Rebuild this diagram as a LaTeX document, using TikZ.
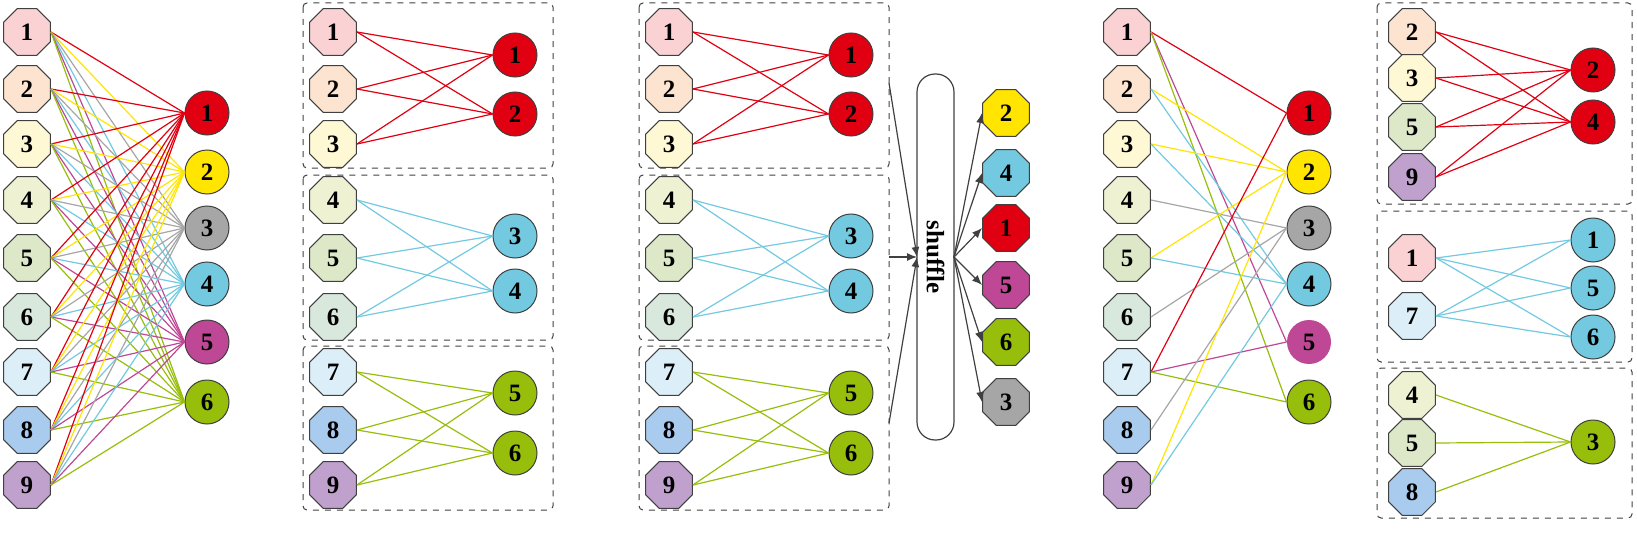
\documentclass[tikz,border=0pt]{standalone}
\usepackage{fontspec}
\setmainfont{Liberation Serif}
\usetikzlibrary{shapes.geometric,arrows.meta}
\definecolor{o1}{HTML}{FAD2D4}\definecolor{o2}{HTML}{FCE4D0}\definecolor{o3}{HTML}{FFF8D4}
\definecolor{o4}{HTML}{EEF2D2}\definecolor{o5}{HTML}{DCE8C8}\definecolor{o6}{HTML}{D8E8DC}
\definecolor{o7}{HTML}{DCEEF8}\definecolor{o8}{HTML}{A9CBEE}\definecolor{o9}{HTML}{C0A0CC}
\definecolor{c1}{HTML}{E00012}\definecolor{c2}{HTML}{FFE500}\definecolor{c3}{HTML}{A6A6A6}
\definecolor{c4}{HTML}{72C9E0}\definecolor{c5}{HTML}{BE4895}\definecolor{c6}{HTML}{96BE0A}
\definecolor{bd}{HTML}{404040}
\tikzset{
  lbl/.style={font=\fontsize{12.5}{14}\selectfont\bfseries},
  oct/.style={regular polygon,regular polygon sides=8,minimum size=25.4pt,inner sep=0pt,draw=bd,line width=0.5pt,fill=o#1,lbl},
  octc/.style={regular polygon,regular polygon sides=8,minimum size=25.4pt,inner sep=0pt,draw=bd,line width=0.5pt,fill=c#1,lbl},
  cir/.style={circle,minimum size=22pt,inner sep=0pt,draw=bd,line width=0.5pt,fill=c#1,lbl},
  e/.style={line width=0.6pt,color=c#1},
  grp/.style={draw=bd,dashed,rounded corners=2pt,line width=0.5pt},
  arr/.style={-{Latex[length=5pt,width=4pt]},draw=bd,line width=0.6pt}
}
\begin{document}
\begin{tikzpicture}[x=0.5pt,y=-0.5pt]
\useasboundingbox (0,0) rectangle (1637,551);
\def\ys{{0,32,89,144,200,258,317,372,430,485}}
\def\cy{{0,113,172,228,284,342,402}}
% Panel 1
\foreach \i in {1,...,9} \node[oct=\i] (a\i) at (27,{\ys[\i]}) {\i};
\foreach \j in {1,...,6} \node[cir=\j] (b\j) at (207,{\cy[\j]}) {\j};
\foreach \i in {1,...,9} \foreach \j in {1,...,6} \draw[e=\j] (a\i.east) -- (b\j.west);
% Panels 2 and 3
\foreach \p/\dx in {q/0,r/336}{
  \draw[grp] (303+\dx,3) rectangle (553+\dx,168);
  \draw[grp] (303+\dx,175) rectangle (553+\dx,340);
  \draw[grp] (303+\dx,346) rectangle (553+\dx,510);
  \foreach \i in {1,...,9} \node[oct=\i] (\p o\i) at (333+\dx,{\ys[\i]}) {\i};
  \node[cir=1] (\p c1) at (515+\dx,55) {1};
  \node[cir=1] (\p c2) at (515+\dx,114) {2};
  \node[cir=4] (\p c3) at (515+\dx,236) {3};
  \node[cir=4] (\p c4) at (515+\dx,291) {4};
  \node[cir=6] (\p c5) at (515+\dx,393) {5};
  \node[cir=6] (\p c6) at (515+\dx,453) {6};
  \foreach \i in {1,2,3} \foreach \j in {1,2} \draw[e=1] (\p o\i.east) -- (\p c\j.west);
  \foreach \i in {4,5,6} \foreach \j in {3,4} \draw[e=4] (\p o\i.east) -- (\p c\j.west);
  \foreach \i in {7,8,9} \foreach \j in {5,6} \draw[e=6] (\p o\i.east) -- (\p c\j.west);
}
% shuffle
\node[draw=bd,line width=0.6pt,rounded corners=9pt,minimum width=18.5pt,minimum height=183pt,inner sep=0pt] (sh) at (935.5,257) {};
\node[rotate=-90,lbl] (shl) at (935.5,257) {shuffle};
\coordinate (g1) at (889,83);
\coordinate (g2) at (889,257);
\coordinate (g3) at (889,423);
\coordinate (si) at (917,257);
\coordinate (so) at (954,257);
\foreach \k in {1,2,3} \draw[arr] (g\k) -- (si);
\foreach \k/\c/\y in {1/2/113,2/4/173,3/1/228,4/5/285,5/6/342,6/3/402}{
  \node[octc=\c] (s\k) at (1006,\y) {\c};
  \draw[arr] (so) -- (s\k.west);
}
% Panel 4
\foreach \i in {1,...,9} \node[oct=\i] (d\i) at (1127,{\ys[\i]}) {\i};
\foreach \j in {1,2,3,4,6} \node[cir=\j] (f\j) at (1309,{\cy[\j]}) {\j};
\node[cir=5,draw=none] (f5) at (1309,342) {5};
\foreach \i/\j in {1/1,1/5,1/6,2/2,2/4,3/2,3/4,4/3,5/2,5/4,6/3,7/1,7/5,7/6,8/3,9/2,9/4}
  \draw[e=\j] (d\i.east) -- (f\j.west);
% Panel 5
\draw[grp] (1377,3) rectangle (1632,204);
\draw[grp] (1377,211) rectangle (1632,362);
\draw[grp] (1377,368) rectangle (1632,518);
\node[oct=2] (h2) at (1412,32) {2};
\node[oct=3] (h3) at (1412,78) {3};
\node[oct=5] (h5) at (1412,127) {5};
\node[oct=9] (h9) at (1412,177) {9};
\node[cir=1] (k2) at (1593,70) {2};
\node[cir=1] (k4) at (1593,122) {4};
\foreach \i in {2,3,5,9} \foreach \j in {2,4} \draw[e=1] (h\i.east) -- (k\j.west);
\node[oct=1] (m1) at (1412,258) {1};
\node[oct=7] (m7) at (1412,316) {7};
\node[cir=4] (n1) at (1593,240) {1};
\node[cir=4] (n5) at (1593,288) {5};
\node[cir=4] (n6) at (1593,337) {6};
\foreach \i in {1,7} \foreach \j in {1,5,6} \draw[e=4] (m\i.east) -- (n\j.west);
\node[oct=4] (t4) at (1412,395) {4};
\node[oct=5] (t5) at (1412,443) {5};
\node[oct=8] (t8) at (1412,492) {8};
\node[cir=6] (u3) at (1593,442) {3};
\foreach \i in {4,5,8} \draw[e=6] (t\i.east) -- (u3.west);
\end{tikzpicture}
\end{document}
